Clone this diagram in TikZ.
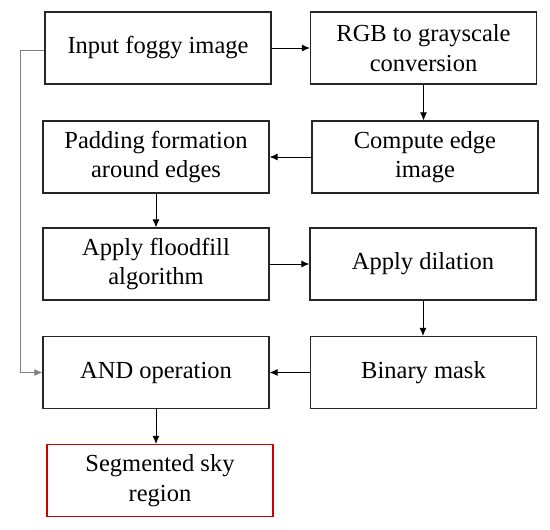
\documentclass[tikz,border=0pt]{standalone}
\usepackage{fontspec}
\setmainfont{Liberation Serif}
\usetikzlibrary{arrows.meta}
\begin{document}
\begin{tikzpicture}[x=1pt,y=-1pt,
  box/.style={draw=black!85,line width=1.1pt,minimum width=226pt,minimum height=72pt,align=center,font=\fontsize{24.5}{29.5}\selectfont,inner sep=0pt},
  redbox/.style={box,draw=red!80!black},
  arr/.style={line width=1pt,-{Latex[length=8pt,width=7pt]}},
  fb/.style={draw=black!50,line width=1pt,-{Latex[length=8pt,width=7pt]},black!50}]
\useasboundingbox (0,0) rectangle (550,530);
\node[box] (in) at (158,48) {Input foggy image};
\node[box] (rgb) at (423.5,48) {RGB to grayscale\\conversion};
\node[box] (pad) at (156,157) {Padding formation\\around edges};
\node[box] (edge) at (425,157) {Compute edge\\image};
\node[box] (flood) at (156,264) {Apply floodfill\\algorithm};
\node[box] (dil) at (423,264) {Apply dilation};
\node[box] (mask) at (423.5,372.5) {Binary mask};
\node[box] (and) at (156,372.5) {AND operation};
\node[redbox] (seg) at (160,480.5) {Segmented sky\\region};
\coordinate (c1) at (20,50);
\coordinate (c2) at (20,372.5);
\draw[arr] (in.east) -- (rgb.west);
\draw[arr] (rgb.south) -- (edge.north -| rgb.south);
\draw[arr] (edge.west) -- (pad.east);
\draw[arr] (pad.south) -- (flood.north);
\draw[arr] (flood.east) -- (dil.west);
\draw[arr] (dil.south) -- (mask.north -| dil.south);
\draw[arr] (mask.west) -- (and.east);
\draw[arr] (and.south) -- (seg.north -| and.south);
\draw[fb] (in.west |- c1) -- (c1) -- (c2) -- (and.west);
\end{tikzpicture}
\end{document}
